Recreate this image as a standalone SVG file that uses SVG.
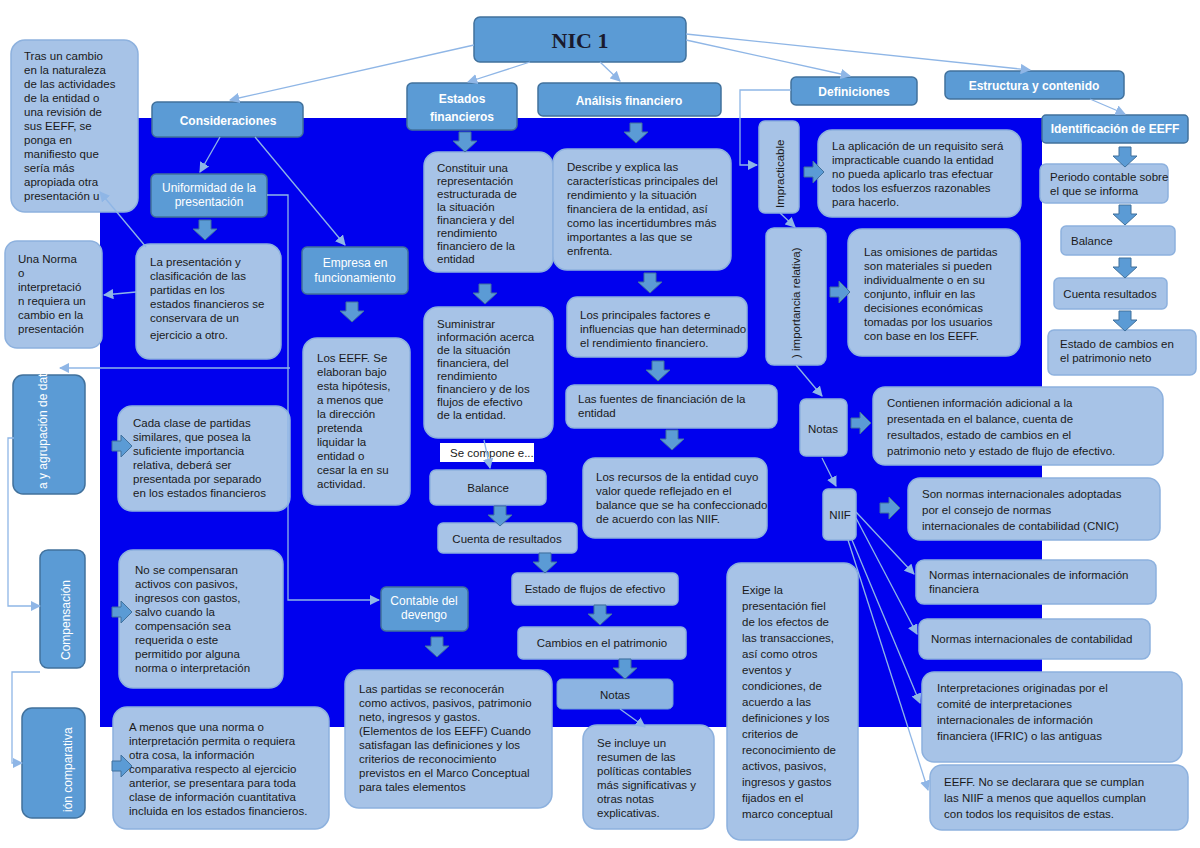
<svg xmlns="http://www.w3.org/2000/svg" width="1200" height="848" viewBox="0 0 1200 848">
<style>
.l{fill:#a7c3e7;stroke:#8db1de;stroke-width:1.5}
.m{fill:#5b9bd5;stroke:#41719c;stroke-width:1.5}
.t{font-family:"Liberation Sans",Arial,sans-serif;font-size:11.5px;fill:#1a1a1a}
.w{font-family:"Liberation Sans",Arial,sans-serif;font-size:12px;fill:#fff}
.b{font-weight:bold}
.c{stroke:#8fb6e6;stroke-width:1.3;fill:none;marker-end:url(#ah)}
.fa{fill:#5b9bd5;stroke:#41719c;stroke-width:1}
</style>
<defs>
<marker id="ah" viewBox="0 0 10 10" refX="9" refY="5" markerWidth="8" markerHeight="8" orient="auto"><path d="M0,0 L10,5 L0,10 z" fill="#8fb6e6"/></marker>
<path id="da" d="M-6,0 h12 v9 h6 l-12,11 l-12,-11 h6 z"/>
<path id="ra" d="M0,-5 h9 v-6 l11,11 l-11,11 v-6 h-9 z"/>
</defs>
<rect width="1200" height="848" fill="#fff"/>
<rect x="100" y="118" width="942" height="609" fill="#0000ee"/>

<g id="nic1"><rect class="m" x="474" y="17" width="212" height="45" rx="6"/><text x="580" y="48" text-anchor="middle" font-family="Liberation Serif,serif" font-size="22" font-weight="bold" fill="#1a1a2e">NIC 1</text></g>
<g id="consideraciones"><rect class="m" x="152" y="102" width="151" height="35" rx="5"/><text class="w b" x="228" y="125" text-anchor="middle" font-size="15">Consideraciones</text></g>
<g id="estados"><rect class="m" x="407" y="83" width="110" height="47" rx="5"/><text class="w b" x="462" y="103" text-anchor="middle" font-size="14">Estados<tspan x="462" dy="18">financieros</tspan></text></g>
<g id="analisis"><rect class="m" x="538" y="83" width="183" height="33" rx="5"/><text class="w b" x="629" y="105" text-anchor="middle" font-size="14">Análisis financiero</text></g>
<g id="definiciones"><rect class="m" x="791" y="77" width="126" height="28" rx="5"/><text class="w b" x="854" y="96" text-anchor="middle">Definiciones</text></g>
<g id="estructura"><rect class="m" x="945" y="71" width="179" height="28" rx="5"/><text class="w b" x="1034" y="90" text-anchor="middle">Estructura y contenido</text></g>

<g id="tras"><rect class="l" x="11" y="40" width="127" height="172" rx="14"/><text class="t" x="24" y="60">Tras un cambio<tspan x="24" dy="14">en la naturaleza</tspan><tspan x="24" dy="14">de las actividades</tspan><tspan x="24" dy="14">de la entidad o</tspan><tspan x="24" dy="14">una revisión de</tspan><tspan x="24" dy="14">sus EEFF, se</tspan><tspan x="24" dy="14">ponga en</tspan><tspan x="24" dy="14">manifiesto que</tspan><tspan x="24" dy="14">sería más</tspan><tspan x="24" dy="14">apropiada otra</tspan><tspan x="24" dy="14">presentación u</tspan></text></g>
<g id="unanorma"><rect class="l" x="5" y="241" width="97" height="107" rx="12"/><text class="t" x="18" y="263">Una Norma<tspan x="18" dy="14">o</tspan><tspan x="18" dy="14">interpretació</tspan><tspan x="18" dy="14">n requiera un</tspan><tspan x="18" dy="14">cambio en la</tspan><tspan x="18" dy="14">presentación</tspan></text></g>
<g id="uniformidad"><rect class="m" x="151" y="174" width="116" height="43" rx="5"/><text class="w" x="209" y="192" text-anchor="middle" font-size="11">Uniformidad de la<tspan x="209" dy="14">presentación</tspan></text></g>
<g id="lapresentacion"><rect class="l" x="136" y="244" width="145" height="115" rx="14"/><text class="t" x="150" y="266">La presentación y<tspan x="150" dy="14">clasificación de las</tspan><tspan x="150" dy="14">partidas en los</tspan><tspan x="150" dy="14">estados financieros se</tspan><tspan x="150" dy="14">conservara de un</tspan><tspan x="150" dy="17">ejercicio a otro.</tspan></text></g>
<g id="empresa"><rect class="m" x="302" y="247" width="106" height="47" rx="5"/><text class="w" x="355" y="267" text-anchor="middle" font-size="11">Empresa en<tspan x="355" dy="15">funcionamiento</tspan></text></g>
<g id="loseeff"><rect class="l" x="303" y="338" width="107" height="167" rx="14"/><text class="t" x="317" y="362">Los EEFF. Se<tspan x="317" dy="14">elaboran bajo</tspan><tspan x="317" dy="14">esta hipótesis,</tspan><tspan x="317" dy="14">a menos que</tspan><tspan x="317" dy="14">la dirección</tspan><tspan x="317" dy="14">pretenda</tspan><tspan x="317" dy="14">liquidar la</tspan><tspan x="317" dy="14">entidad o</tspan><tspan x="317" dy="14">cesar la en su</tspan><tspan x="317" dy="14">actividad.</tspan></text></g>
<g id="constituir"><rect class="l" x="424" y="152" width="129" height="120" rx="14"/><text class="t" x="437" y="172">Constituir una<tspan x="437" dy="13">representación</tspan><tspan x="437" dy="13">estructurada de</tspan><tspan x="437" dy="13">la situación</tspan><tspan x="437" dy="13">financiera y del</tspan><tspan x="437" dy="13">rendimiento</tspan><tspan x="437" dy="13">financiero de la</tspan><tspan x="437" dy="13">entidad</tspan></text></g>
<g id="suministrar"><rect class="l" x="424" y="307" width="129" height="131" rx="14"/><text class="t" x="437" y="328">Suministrar<tspan x="437" dy="13">información acerca</tspan><tspan x="437" dy="13">de la situación</tspan><tspan x="437" dy="13">financiera, del</tspan><tspan x="437" dy="13">rendimiento</tspan><tspan x="437" dy="13">financiero y de los</tspan><tspan x="437" dy="13">flujos de efectivo</tspan><tspan x="437" dy="13">de la entidad.</tspan></text></g>
<g id="secompone"><rect x="440" y="443" width="94" height="19" fill="#fff"/><text class="t" x="450" y="457" font-size="8">Se compone e...</text></g>
<g id="balance1"><rect class="l" x="430" y="470" width="116" height="35" rx="6"/><text class="t" x="488" y="492" text-anchor="middle">Balance</text></g>
<g id="cuenta1"><rect class="l" x="438" y="523" width="139" height="30" rx="5"/><text class="t" x="507" y="543" text-anchor="middle">Cuenta de resultados</text></g>
<g id="flujos"><rect class="l" x="512" y="573" width="166" height="32" rx="5"/><text class="t" x="595" y="593" text-anchor="middle">Estado de flujos de efectivo</text></g>
<g id="cambios"><rect class="l" x="518" y="627" width="168" height="32" rx="5"/><text class="t" x="602" y="647" text-anchor="middle">Cambios en el patrimonio</text></g>
<g id="notas1"><rect x="557" y="679" width="116" height="30" rx="5" fill="#8cb4e2" stroke="#6f9fd6"/><text class="t" x="615" y="699" text-anchor="middle" font-size="13">Notas</text></g>
<g id="seincluye"><rect class="l" x="583" y="725" width="131" height="104" rx="14"/><text class="t" x="597" y="747">Se incluye un<tspan x="597" dy="14">resumen de las</tspan><tspan x="597" dy="14">políticas contables</tspan><tspan x="597" dy="14">más significativas y</tspan><tspan x="597" dy="14">otras notas</tspan><tspan x="597" dy="14">explicativas.</tspan></text></g>
<g id="describe"><rect class="l" x="553" y="149" width="178" height="121" rx="14"/><text class="t" x="567" y="171">Describe y explica las<tspan x="567" dy="14">características principales del</tspan><tspan x="567" dy="14">rendimiento y la situación</tspan><tspan x="567" dy="14">financiera de la entidad, así</tspan><tspan x="567" dy="14">como las incertidumbres más</tspan><tspan x="567" dy="14">importantes a las que se</tspan><tspan x="567" dy="14">enfrenta.</tspan></text></g>
<g id="principales"><rect class="l" x="567" y="297" width="180" height="60" rx="10"/><text class="t" x="580" y="319">Los principales factores e<tspan x="580" dy="14">influencias que han determinado</tspan><tspan x="580" dy="14">el rendimiento financiero.</tspan></text></g>
<g id="fuentes"><rect class="l" x="566" y="385" width="211" height="43" rx="8"/><text class="t" x="578" y="403">Las fuentes de financiación de la<tspan x="578" dy="14">entidad</tspan></text></g>
<g id="recursos"><rect class="l" x="583" y="458" width="184" height="80" rx="12"/><text class="t" x="596" y="481">Los recursos de la entidad cuyo<tspan x="596" dy="14">valor quede reflejado en el</tspan><tspan x="596" dy="14">balance que se ha confeccionado</tspan><tspan x="596" dy="14">de acuerdo con las NIIF.</tspan></text></g>
<g id="contable"><rect class="m" x="381" y="587" width="87" height="44" rx="5"/><text class="w" x="424" y="605" text-anchor="middle" font-size="11">Contable del<tspan x="424" dy="14">devengo</tspan></text></g>
<g id="laspartidas"><rect class="l" x="345" y="670" width="207" height="138" rx="14"/><text class="t" x="359" y="693">Las partidas se reconocerán<tspan x="359" dy="14">como activos, pasivos, patrimonio</tspan><tspan x="359" dy="14">neto, ingresos y gastos.</tspan><tspan x="359" dy="14">(Elementos de los EEFF) Cuando</tspan><tspan x="359" dy="14">satisfagan las definiciones y los</tspan><tspan x="359" dy="14">criterios de reconocimiento</tspan><tspan x="359" dy="14">previstos en el Marco Conceptual</tspan><tspan x="359" dy="14">para tales elementos</tspan></text></g>

<g id="agrupacion"><rect class="m" x="13" y="375" width="72" height="119" rx="10"/><text class="w" transform="translate(47,489) rotate(-90)" font-size="9">a y agrupación de datos</text></g>
<g id="compensacion"><rect class="m" x="40" y="550" width="45" height="118" rx="8"/><text class="w" transform="translate(70,660) rotate(-90)" font-size="13">Compensación</text></g>
<g id="comparativa"><rect class="m" x="22" y="708" width="63" height="110" rx="10"/><text class="w" transform="translate(72,812) rotate(-90)" font-size="11">ión comparativa</text></g>
<g id="cadaclase"><rect class="l" x="118" y="406" width="172" height="105" rx="14"/><text class="t" x="133" y="427">Cada clase de partidas<tspan x="133" dy="14">similares, que posea la</tspan><tspan x="133" dy="14">suficiente importancia</tspan><tspan x="133" dy="14">relativa, deberá ser</tspan><tspan x="133" dy="14">presentada por separado</tspan><tspan x="133" dy="14">en los estados financieros</tspan></text></g>
<g id="nosecomp"><rect class="l" x="119" y="550" width="164" height="138" rx="14"/><text class="t" x="135" y="574">No se compensaran<tspan x="135" dy="14">activos con pasivos,</tspan><tspan x="135" dy="14">ingresos con gastos,</tspan><tspan x="135" dy="14">salvo cuando la</tspan><tspan x="135" dy="14">compensación sea</tspan><tspan x="135" dy="14">requerida o este</tspan><tspan x="135" dy="14">permitido por alguna</tspan><tspan x="135" dy="14">norma o interpretación</tspan></text></g>
<g id="amenos"><rect class="l" x="113" y="707" width="216" height="122" rx="14"/><text class="t" x="129" y="731">A menos que una norma o<tspan x="129" dy="14">interpretación permita o requiera</tspan><tspan x="129" dy="14">otra cosa, la información</tspan><tspan x="129" dy="14">comparativa respecto al ejercicio</tspan><tspan x="129" dy="14">anterior, se presentara para toda</tspan><tspan x="129" dy="14">clase de información cuantitativa</tspan><tspan x="129" dy="14">incluida en los estados financieros.</tspan></text></g>

<g id="impracticable"><rect class="l" x="759" y="121" width="40" height="92" rx="6"/><text class="t" transform="translate(784,208) rotate(-90)" font-size="12">Impracticable</text></g>
<g id="importancia"><rect class="l" x="766" y="228" width="60" height="137" rx="8"/><text class="t" transform="translate(800,358) rotate(-90)" font-size="11">) importancia relativa)</text></g>
<g id="aplicacion"><rect class="l" x="818" y="130" width="203" height="87" rx="14"/><text class="t" x="832" y="150">La aplicación de un requisito será<tspan x="832" dy="14">impracticable cuando la entidad</tspan><tspan x="832" dy="14">no pueda aplicarlo tras efectuar</tspan><tspan x="832" dy="14">todos los esfuerzos razonables</tspan><tspan x="832" dy="14">para hacerlo.</tspan></text></g>
<g id="omisiones"><rect class="l" x="848" y="229" width="172" height="127" rx="14"/><text class="t" x="864" y="256">Las omisiones de partidas<tspan x="864" dy="14">son materiales si pueden</tspan><tspan x="864" dy="14">individualmente o en su</tspan><tspan x="864" dy="14">conjunto, influir en las</tspan><tspan x="864" dy="14">decisiones económicas</tspan><tspan x="864" dy="14">tomadas por los usuarios</tspan><tspan x="864" dy="14">con base en los EEFF.</tspan></text></g>
<g id="notas2"><rect class="l" x="800" y="399" width="47" height="57" rx="6"/><text class="t" x="823" y="433" text-anchor="middle" font-size="12">Notas</text></g>
<g id="contienen"><rect class="l" x="873" y="387" width="290" height="78" rx="12"/><text class="t" x="887" y="407" font-size="12.5">Contienen información adicional a la<tspan x="887" dy="16">presentada en el balance, cuenta de</tspan><tspan x="887" dy="16">resultados, estado de cambios en el</tspan><tspan x="887" dy="16">patrimonio neto y estado de flujo de efectivo.</tspan></text></g>
<g id="niif"><rect class="l" x="823" y="489" width="33" height="51" rx="5"/><text class="t" x="840" y="519" text-anchor="middle" font-size="11">NIIF</text></g>
<g id="sonnormas"><rect class="l" x="908" y="478" width="252" height="62" rx="12"/><text class="t" x="922" y="498" font-size="12.5">Son normas internacionales adoptadas<tspan x="922" dy="16">por el consejo de normas</tspan><tspan x="922" dy="16">internacionales de contabilidad (CNIC)</tspan></text></g>
<g id="exige"><rect class="l" x="727" y="563" width="131" height="277" rx="14"/><text class="t" x="742" y="594" font-size="12.5">Exige la<tspan x="742" dy="16">presentación fiel</tspan><tspan x="742" dy="16">de los efectos de</tspan><tspan x="742" dy="16">las transacciones,</tspan><tspan x="742" dy="16">así como otros</tspan><tspan x="742" dy="16">eventos y</tspan><tspan x="742" dy="16">condiciones, de</tspan><tspan x="742" dy="16">acuerdo a las</tspan><tspan x="742" dy="16">definiciones y los</tspan><tspan x="742" dy="16">criterios de</tspan><tspan x="742" dy="16">reconocimiento de</tspan><tspan x="742" dy="16">activos, pasivos,</tspan><tspan x="742" dy="16">ingresos y gastos</tspan><tspan x="742" dy="16">fijados en el</tspan><tspan x="742" dy="16">marco conceptual</tspan></text></g>
<g id="nif1"><rect class="l" x="916" y="560" width="240" height="44" rx="8"/><text class="t" x="929" y="579">Normas internacionales de información<tspan x="929" dy="14">financiera</tspan></text></g>
<g id="nic2"><rect class="l" x="919" y="619" width="231" height="40" rx="8"/><text class="t" x="931" y="643">Normas internacionales de contabilidad</text></g>
<g id="interpretaciones"><rect class="l" x="922" y="672" width="260" height="90" rx="12"/><text class="t" x="937" y="692" font-size="12.5">Interpretaciones originadas por el<tspan x="937" dy="16">comité de interpretaciones</tspan><tspan x="937" dy="16">internacionales de información</tspan><tspan x="937" dy="16">financiera (IFRIC) o las antiguas</tspan></text></g>
<g id="eeffno"><rect class="l" x="930" y="765" width="258" height="65" rx="12"/><text class="t" x="944" y="786" font-size="12.5">EEFF. No se declarara que se cumplan<tspan x="944" dy="16">las NIIF a menos que aquellos cumplan</tspan><tspan x="944" dy="16">con todos los requisitos de estas.</tspan></text></g>

<g id="identificacion"><rect class="m" x="1042" y="115" width="146" height="28" rx="4"/><text class="w b" x="1115" y="133" text-anchor="middle" font-size="11.5">Identificación de EEFF</text></g>
<g id="periodo"><rect class="l" x="1040" y="164" width="128" height="39" rx="6"/><text class="t" x="1050" y="181" font-size="11">Periodo contable sobre<tspan x="1050" dy="14">el que se informa</tspan></text></g>
<g id="balance2"><rect class="l" x="1061" y="226" width="114" height="29" rx="5"/><text class="t" x="1071" y="245" font-size="12.5">Balance</text></g>
<g id="cuenta2"><rect class="l" x="1054" y="278" width="113" height="31" rx="5"/><text class="t" x="1110" y="298" text-anchor="middle" font-size="11">Cuenta resultados</text></g>
<g id="cambios2"><rect class="l" x="1048" y="330" width="148" height="45" rx="6"/><text class="t" x="1060" y="348" font-size="11">Estado de cambios en<tspan x="1060" dy="14">el patrimonio neto</tspan></text></g>

<g id="connectors">
<path class="c" d="M474,45 L230,100"/>
<path class="c" d="M530,62 L468,82"/>
<path class="c" d="M600,62 L620,81"/>
<path class="c" d="M686,40 L850,76"/>
<path class="c" d="M686,34 L1030,70"/>
<path class="c" d="M220,137 L200,172"/>
<path class="c" d="M255,137 L345,245"/>
<path class="c" d="M267,195 H288 V600 H379"/>
<path class="c" d="M146,247 L100,192"/>
<path class="c" d="M136,292 L104,295"/>
<path class="c" d="M290,368 H60"/>
<path class="c" d="M14,438 H8 V606 H40"/>
<path class="c" d="M40,672 H12 V763 H22"/>
<path class="c" d="M791,90 H740 V165 H757"/>
<path class="c" d="M780,213 L795,227"/>
<path class="c" d="M796,365 L822,396"/>
<path class="c" d="M822,458 L836,486"/>
<path class="c" d="M856,512 L914,574"/>
<path class="c" d="M856,518 L917,634"/>
<path class="c" d="M852,540 L920,703"/>
<path class="c" d="M848,540 L928,790"/>
<path class="c" d="M1090,99 L1125,114"/>
<path class="c" d="M484,440 L490,468"/>
<path class="c" d="M620,709 L645,727"/>
<g class="fa">
<use href="#da" x="205" y="220"/><use href="#da" x="352" y="302"/><use href="#da" x="465" y="132"/>
<use href="#da" x="485" y="284"/><use href="#da" x="500" y="506"/><use href="#da" x="545" y="553"/>
<use href="#da" x="600" y="605"/><use href="#da" x="625" y="659"/><use href="#da" x="636" y="123"/>
<use href="#da" x="650" y="273"/><use href="#da" x="658" y="361"/><use href="#da" x="672" y="430"/>
<use href="#da" x="437" y="637"/><use href="#da" x="1125" y="147"/><use href="#da" x="1125" y="205"/>
<use href="#da" x="1125" y="258"/><use href="#da" x="1125" y="311"/>
<use href="#ra" x="804" y="172"/><use href="#ra" x="830" y="292"/><use href="#ra" x="851" y="423"/>
<use href="#ra" x="880" y="508"/><use href="#ra" x="112" y="446"/><use href="#ra" x="112" y="612"/>
<use href="#ra" x="112" y="766"/>
</g>
</g>
</svg>
